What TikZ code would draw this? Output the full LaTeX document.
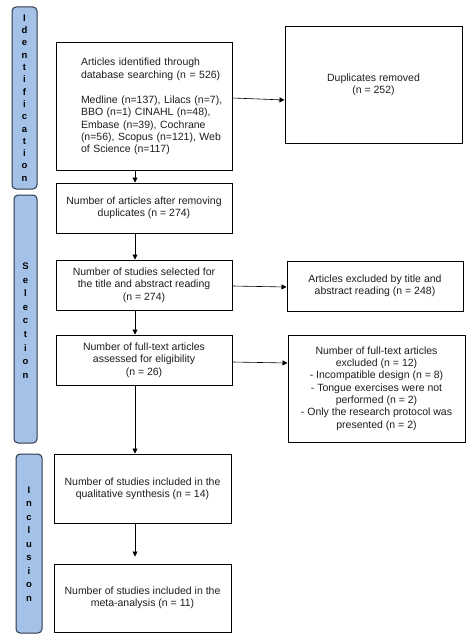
\documentclass[tikz,border=0pt]{standalone}
\usepackage{fontspec}
\setmainfont{Liberation Sans}
\usetikzlibrary{arrows.meta}
\definecolor{barfill}{RGB}{164,194,232}
\definecolor{bardraw}{RGB}{45,55,75}
\definecolor{txt}{RGB}{30,30,30}
\begin{document}
\begin{tikzpicture}[x=1pt,y=-1pt,
  box/.style={draw=black,line width=1pt,fill=white,minimum width=176pt,inner sep=0pt,
    font=\fontsize{10.5}{12.3}\selectfont,text=txt,align=center},
  bar/.style={draw=bardraw,line width=1pt,fill=barfill,rounded corners=4pt,inner sep=0pt},
  barlbl/.style={font=\bfseries\fontsize{9.5}{12.3}\selectfont,text=black,align=center,inner sep=0pt},
  arr/.style={draw=black,line width=0.6pt,-{Triangle[length=5pt,width=5pt]}}]
\useasboundingbox (0,0) rectangle (474,642);
\fill[white] (0,0) rectangle (474,642);
% side bars
\node[bar,minimum width=25pt,minimum height=182pt] (idbar) at (24.5,98) {};
\node[barlbl] (idlbl) at (24.5,98) {I\\d\\e\\n\\t\\i\\f\\i\\c\\a\\t\\i\\o\\n};
\node[bar,minimum width=23pt,minimum height=248pt] (selbar) at (25.5,319) {};
\node[barlbl,font=\bfseries\fontsize{9.5}{13.6}\selectfont] (sellbl) at (25.5,320.5) {S\\e\\l\\e\\c\\t\\i\\o\\n};
\node[bar,minimum width=26pt,minimum height=179pt] (incbar) at (29,543.5) {};
\node[barlbl,font=\bfseries\fontsize{9.5}{13.5}\selectfont] (inclbl) at (29,544) {I\\n\\c\\l\\u\\s\\i\\o\\n};
% boxes
\node[box,minimum height=127pt] (b1) at (144,106.5) {};
\node[font=\fontsize{10.5}{12.3}\selectfont,text=txt,align=left,text width=146pt,inner sep=0pt] (b1t) at (154,106.5)
  {Articles identified through\\database searching (n = 526)\\[13pt]Medline (n=137), Lilacs (n=7),\\BBO (n=1) CINAHL (n=48),\\Embase (n=39), Cochrane\\(n=56), Scopus (n=121), Web\\of Science (n=117)};
\node[box,minimum width=177pt,minimum height=116pt] (dup) at (373.5,85) {Duplicates removed\\(n = 252)};
\node[box,minimum height=50pt] (b2) at (144,208) {Number of articles after removing\\duplicates (n = 274)};
\node[box,minimum height=50pt] (b3) at (144,285) {Number of studies selected for\\the title and abstract reading\\(n = 274)};
\node[box,minimum height=50pt] (ex1) at (375,286) {Articles excluded by title and\\abstract reading (n = 248)};
\node[box,minimum height=50pt] (b4) at (144,360) {Number of full-text articles\\assessed for eligibility\\(n = 26)};
\node[box,minimum width=177pt,minimum height=107pt] (ex2) at (376.5,388.5)
  {Number of full-text articles\\excluded (n = 12)\\- Incompatible design (n = 8)\\- Tongue exercises were not\\performed (n = 2)\\- Only the research protocol was\\presented (n = 2)};
\node[box,minimum width=177pt,minimum height=69pt] (b5) at (142.5,488.5) {Number of studies included in the\\qualitative synthesis (n = 14)};
\node[box,minimum width=177pt,minimum height=68pt] (b6) at (142.5,598) {Number of studies included in the\\meta-analysis (n = 11)};
% arrows
\draw[arr] (b1.east |- 0,98) -- (dup.west |- 0,100);
\draw[arr] (b1.south -| 135,0) -- (b2.north -| 135,0);
\draw[arr] (b2.south -| 135,0) -- (b3.north -| 135,0);
\draw[arr] (b3.east |- 0,286) -- (ex1.west |- 0,287);
\draw[arr] (b3.south -| 135,0) -- (b4.north -| 135,0);
\draw[arr] (b4.east |- 0,362) -- (ex2.west |- 0,363);
\draw[arr] (b4.south -| 135,0) -- (b5.north -| 135,0);
\draw[arr,shorten >=7pt] (b5.south -| 135,0) -- (b6.north -| 135,0);
\end{tikzpicture}
\end{document}
